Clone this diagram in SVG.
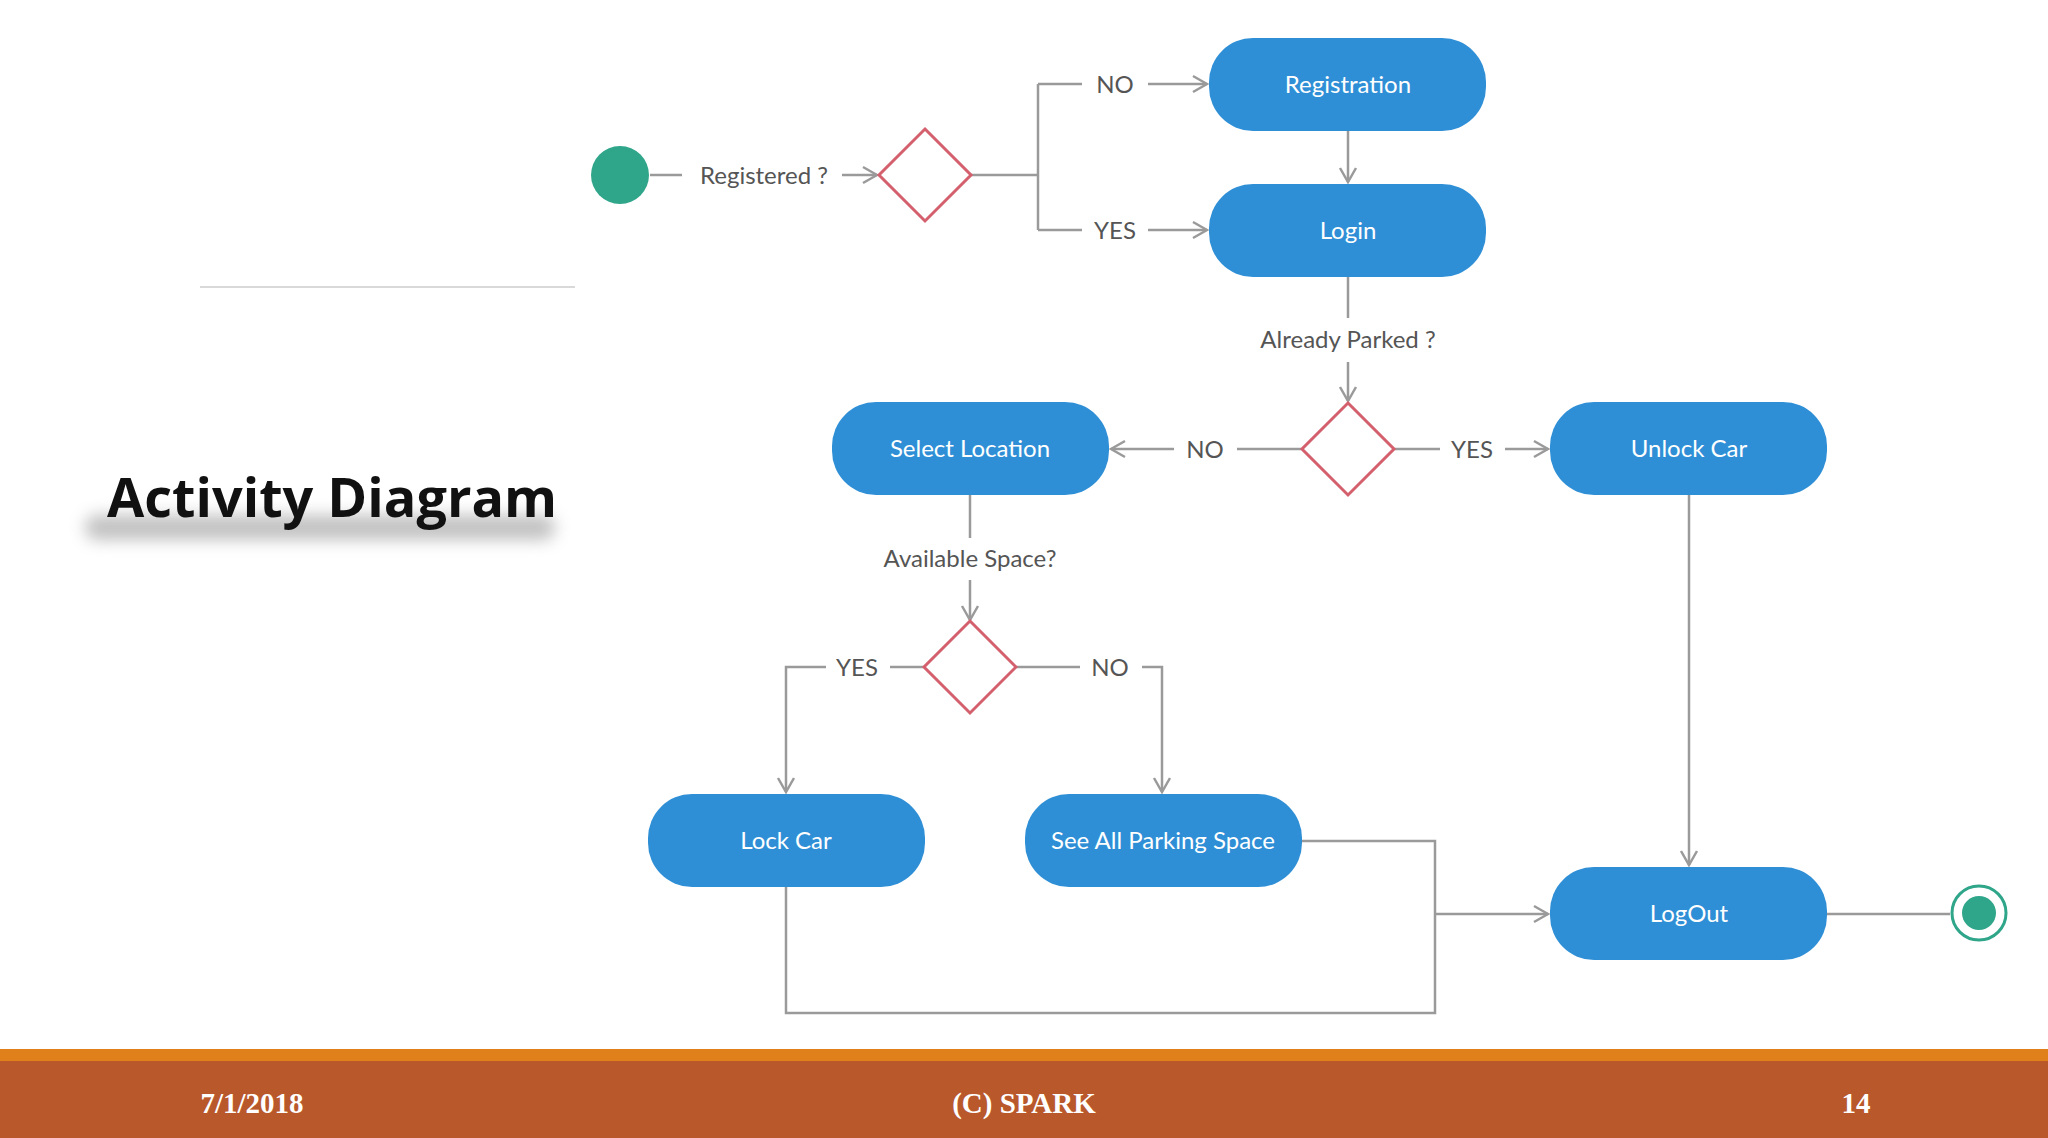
<svg xmlns="http://www.w3.org/2000/svg" width="2048" height="1138" viewBox="0 0 2048 1138">
<style>
.n{fill:#2f8fd6}
.nt{fill:#fff;font-family:Lato,"Open Sans",sans-serif;font-size:24px;text-anchor:middle}
.lb{fill:#555;font-family:Lato,"Open Sans",sans-serif;font-size:24px;text-anchor:middle}
.c{fill:none;stroke:#9a9a9a;stroke-width:2.5}
.d{fill:#fff;stroke:#d4606e;stroke-width:3}
.f{fill:#fff;font-family:"Liberation Serif",serif;font-weight:bold;font-size:29px;text-anchor:middle}
</style>
<defs>
<marker id="a" viewBox="0 0 20 20" refX="18" refY="10" markerWidth="20" markerHeight="20" markerUnits="userSpaceOnUse" orient="auto">
<path d="M4,2 L18,10 L4,18" fill="none" stroke="#9a9a9a" stroke-width="2.5"/>
</marker>
<filter id="bl" x="-20%" y="-100%" width="140%" height="300%"><feGaussianBlur stdDeviation="8"/></filter>
</defs>
<rect width="2048" height="1138" fill="#fff"/>
<line x1="200" y1="287" x2="575" y2="287" stroke="#ccc" stroke-width="1.5"/>
<rect x="85" y="515" width="470" height="25" rx="12" fill="#999" opacity="0.6" filter="url(#bl)"/>
<text x="107" y="517" font-family="'Open Sans',sans-serif" font-weight="bold" font-size="54" fill="#111">Activity Diagram</text>
<g id="connectors">
<path class="c" d="M650,175 H682"/>
<path class="c" d="M842,175 H877" marker-end="url(#a)"/>
<path class="c" d="M971,175 H1038 M1038,84 V230 M1038,84 H1082"/>
<path class="c" d="M1148,84 H1207" marker-end="url(#a)"/>
<path class="c" d="M1038,230 H1082"/>
<path class="c" d="M1148,230 H1207" marker-end="url(#a)"/>
<path class="c" d="M1348,131 V182" marker-end="url(#a)"/>
<path class="c" d="M1348,277 V318"/>
<path class="c" d="M1348,362 V401" marker-end="url(#a)"/>
<path class="c" d="M1302,449 H1237"/>
<path class="c" d="M1174,449 H1111" marker-end="url(#a)"/>
<path class="c" d="M1394,449 H1440"/>
<path class="c" d="M1505,449 H1548" marker-end="url(#a)"/>
<path class="c" d="M970,495 V538"/>
<path class="c" d="M970,580 V620" marker-end="url(#a)"/>
<path class="c" d="M924,667 H890 M826,667 H786 V792" marker-end="url(#a)"/>
<path class="c" d="M1016,667 H1080 M1142,667 H1162 V792" marker-end="url(#a)"/>
<path class="c" d="M1689,495 V865" marker-end="url(#a)"/>
<path class="c" d="M1302,841 H1435 V1013 H786 V887"/>
<path class="c" d="M1435,914 H1548" marker-end="url(#a)"/>
<path class="c" d="M1827,914 H1950"/>
<text class="lb" x="764" y="184">Registered ?</text>
<text class="lb" x="1115" y="93">NO</text>
<text class="lb" x="1115" y="239">YES</text>
<text class="lb" x="1348" y="348">Already Parked ?</text>
<text class="lb" x="1205" y="458">NO</text>
<text class="lb" x="1472" y="458">YES</text>
<text class="lb" x="970" y="567">Available Space?</text>
<text class="lb" x="857" y="676">YES</text>
<text class="lb" x="1110" y="676">NO</text>
</g>
<g id="start"><circle cx="620" cy="175" r="29" fill="#2fa58a"/></g>
<g id="dec1"><polygon class="d" points="925,129 971,175 925,221 879,175"/></g>
<g id="registration"><rect class="n" x="1209" y="38" width="277" height="93" rx="44"/><text class="nt" x="1348" y="93">Registration</text></g>
<g id="login"><rect class="n" x="1209" y="184" width="277" height="93" rx="44"/><text class="nt" x="1348" y="239">Login</text></g>
<g id="dec2"><polygon class="d" points="1348,403 1394,449 1348,495 1302,449"/></g>
<g id="selectlocation"><rect class="n" x="832" y="402" width="277" height="93" rx="44"/><text class="nt" x="970" y="457">Select Location</text></g>
<g id="unlockcar"><rect class="n" x="1550" y="402" width="277" height="93" rx="44"/><text class="nt" x="1689" y="457">Unlock Car</text></g>
<g id="dec3"><polygon class="d" points="970,621 1016,667 970,713 924,667"/></g>
<g id="lockcar"><rect class="n" x="648" y="794" width="277" height="93" rx="44"/><text class="nt" x="786" y="849">Lock Car</text></g>
<g id="seeall"><rect class="n" x="1025" y="794" width="277" height="93" rx="44"/><text class="nt" x="1163" y="849">See All Parking Space</text></g>
<g id="logout"><rect class="n" x="1550" y="867" width="277" height="93" rx="44"/><text class="nt" x="1689" y="922">LogOut</text></g>
<g id="end"><circle cx="1979" cy="913" r="27" fill="#fff" stroke="#2fa58a" stroke-width="3"/><circle cx="1979" cy="913" r="17" fill="#2fa58a"/></g>
<g id="footer">
<rect x="0" y="1049" width="2048" height="12" fill="#e0801a"/>
<rect x="0" y="1061" width="2048" height="77" fill="#b9582b"/>
<text class="f" x="252" y="1113">7/1/2018</text>
<text class="f" x="1024" y="1113">(C) SPARK</text>
<text class="f" x="1856" y="1113">14</text>
</g>
</svg>
